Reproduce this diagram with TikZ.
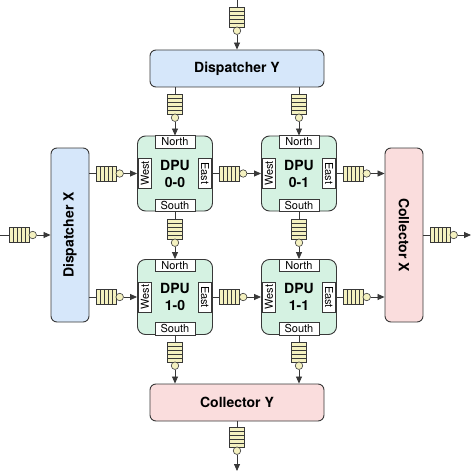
\documentclass[tikz,border=0pt]{standalone}
\usepackage{fontspec}
\setmainfont{TeX Gyre Heros}
\usetikzlibrary{arrows.meta,calc}
\definecolor{dispblue}{HTML}{D6E7FA}
\definecolor{collpink}{HTML}{FADDDD}
\definecolor{dpugreen}{HTML}{D5F2E2}
\definecolor{qyellow}{HTML}{F4F1C0}
\definecolor{edgec}{HTML}{383838}
\tikzset{
  unit/.style={draw=edgec, line width=0.9pt, rounded corners=6pt, inner sep=0pt,
    font=\fontsize{14}{17}\selectfont\bfseries},
  disp/.style={unit, fill=dispblue},
  coll/.style={unit, fill=collpink},
  wide/.style={minimum width=174pt, minimum height=37pt},
  dpubox/.style={unit, fill=dpugreen, minimum width=75pt, minimum height=75pt,
    rounded corners=8pt, align=center},
  port/.style={draw=edgec, line width=0.7pt, fill=white, inner sep=0pt,
    font=\fontsize{11}{12}\selectfont, minimum width=40pt, minimum height=12.5pt},
  sideport/.style={port, minimum width=30pt, minimum height=13pt},
  qbase/.style={draw=edgec, fill=qyellow, line width=0.7pt, inner sep=0pt},
  vq/.style={qbase, minimum width=15pt, minimum height=20pt,
    path picture={\foreach \i in {1,2,3,4}{\draw[edgec, line width=0.5pt]
      ($(path picture bounding box.north west)!\i/5!(path picture bounding box.south west)$) --
      ($(path picture bounding box.north east)!\i/5!(path picture bounding box.south east)$);}}},
  hq/.style={qbase, minimum width=20pt, minimum height=15pt,
    path picture={\foreach \i in {1,2,3,4}{\draw[edgec, line width=0.5pt]
      ($(path picture bounding box.north west)!\i/5!(path picture bounding box.north east)$) --
      ($(path picture bounding box.south west)!\i/5!(path picture bounding box.south east)$);}}},
  qc/.style={circle, draw=edgec, fill=qyellow, line width=0.6pt, minimum size=7.5pt, inner sep=0pt},
  link/.style={draw=edgec, line width=0.8pt},
  arr/.style={link, -{Triangle[length=7pt,width=6pt]}}
}
\newcommand{\mydpu}[3]{%
  \node[dpubox] (#1) at (#2) {DPU\\#3};
  \node[port] (#1n) at ($(#1.north)+(0,6.25)$) {North};
  \node[port] (#1s) at ($(#1.south)+(0,-6.25)$) {South};
  \node[sideport, rotate=90] (#1w) at ($(#1.west)+(8,0)$) {West};
  \node[sideport, rotate=-90] (#1e) at ($(#1.east)+(-8,0)$) {East};
}
\begin{document}
\begin{tikzpicture}[x=1pt, y=-1pt]
\useasboundingbox (0,0) rectangle (474,476);

% main units
\node[disp, wide] (dy) at (237,68.5) {Dispatcher Y};
\node[coll, wide] (cy) at (237,402.5) {Collector Y};
\node[disp, rotate=90, minimum width=174pt, minimum height=38pt] (dx) at (70,235) {Dispatcher X};
\node[coll, rotate=-90, minimum width=174pt, minimum height=38pt] (cx) at (404,235) {Collector X};

\mydpu{d00}{175,173.5}{0-0}
\mydpu{d01}{299,173.5}{0-1}
\mydpu{d10}{175,297}{1-0}
\mydpu{d11}{299,297}{1-1}

% input to Dispatcher Y
\coordinate (iny) at (237,0);
\node[vq] (qy0) at (237,17) {};
\node[qc] (cy0) at (237,30.7) {};
\draw[link] (iny) -- (qy0);
\draw[arr] (cy0) -- (dy);

% Dispatcher Y to DPUs
\node[vq] (qy1) at (175,104) {};
\node[qc] (cy1) at (175,117.7) {};
\draw[link] (dy.south -| qy1) -- (qy1);
\draw[arr] (cy1) -- (d00);
\node[vq] (qy2) at (299,104) {};
\node[qc] (cy2) at (299,117.7) {};
\draw[link] (dy.south -| qy2) -- (qy2);
\draw[arr] (cy2) -- (d01);

% row 0 to row 1
\node[vq] (qv1) at (175,229) {};
\node[qc] (cv1) at (175,242.7) {};
\draw[link] (d00) -- (qv1);
\draw[arr] (cv1) -- (d10);
\node[vq] (qv2) at (299,229) {};
\node[qc] (cv2) at (299,242.7) {};
\draw[link] (d01) -- (qv2);
\draw[arr] (cv2) -- (d11);

% row 1 to Collector Y
\node[vq] (qv3) at (175,352) {};
\node[qc] (cv3) at (175,365.7) {};
\draw[link] (d10) -- (qv3);
\draw[arr] (cv3) -- (cy.north -| cv3);
\node[vq] (qv4) at (299,352) {};
\node[qc] (cv4) at (299,365.7) {};
\draw[link] (d11) -- (qv4);
\draw[arr] (cv4) -- (cy.north -| cv4);

% Collector Y output
\coordinate (outy) at (237,471);
\node[vq] (qy3) at (237,437) {};
\node[qc] (cy3) at (237,450.7) {};
\draw[link] (cy) -- (qy3);
\draw[arr] (cy3) -- (outy);

% input to Dispatcher X
\coordinate (inx) at (0,235);
\node[hq] (qx0) at (19,235) {};
\node[qc] (cx0) at (32.7,235) {};
\draw[link] (inx) -- (qx0);
\draw[arr] (cx0) -- (cx0 -| dx.north);

% Dispatcher X to DPUs
\node[hq] (qx1) at (106,173.5) {};
\node[qc] (cx1) at (119.7,173.5) {};
\draw[link] (qx1.west -| dx.south) -- (qx1);
\draw[arr] (cx1) -- (d00);
\node[hq] (qx2) at (106,297) {};
\node[qc] (cx2) at (119.7,297) {};
\draw[link] (qx2.west -| dx.south) -- (qx2);
\draw[arr] (cx2) -- (d10);

% column 0 to column 1
\node[hq] (qh1) at (229.5,173.5) {};
\node[qc] (ch1) at (243.2,173.5) {};
\draw[link] (d00) -- (qh1);
\draw[arr] (ch1) -- (d01);
\node[hq] (qh2) at (229.5,297) {};
\node[qc] (ch2) at (243.2,297) {};
\draw[link] (d10) -- (qh2);
\draw[arr] (ch2) -- (d11);

% column 1 to Collector X
\node[hq] (qh3) at (353,173.5) {};
\node[qc] (ch3) at (366.7,173.5) {};
\draw[link] (d01) -- (qh3);
\draw[arr] (ch3) -- (ch3 -| cx.south);
\node[hq] (qh4) at (353,297) {};
\node[qc] (ch4) at (366.7,297) {};
\draw[link] (d11) -- (qh4);
\draw[arr] (ch4) -- (ch4 -| cx.south);

% Collector X output
\coordinate (outx) at (471,235);
\node[hq] (qx3) at (440,235) {};
\node[qc] (cx3) at (453.7,235) {};
\draw[link] (cx) -- (qx3);
\draw[arr] (cx3) -- (outx);
\end{tikzpicture}
\end{document}
